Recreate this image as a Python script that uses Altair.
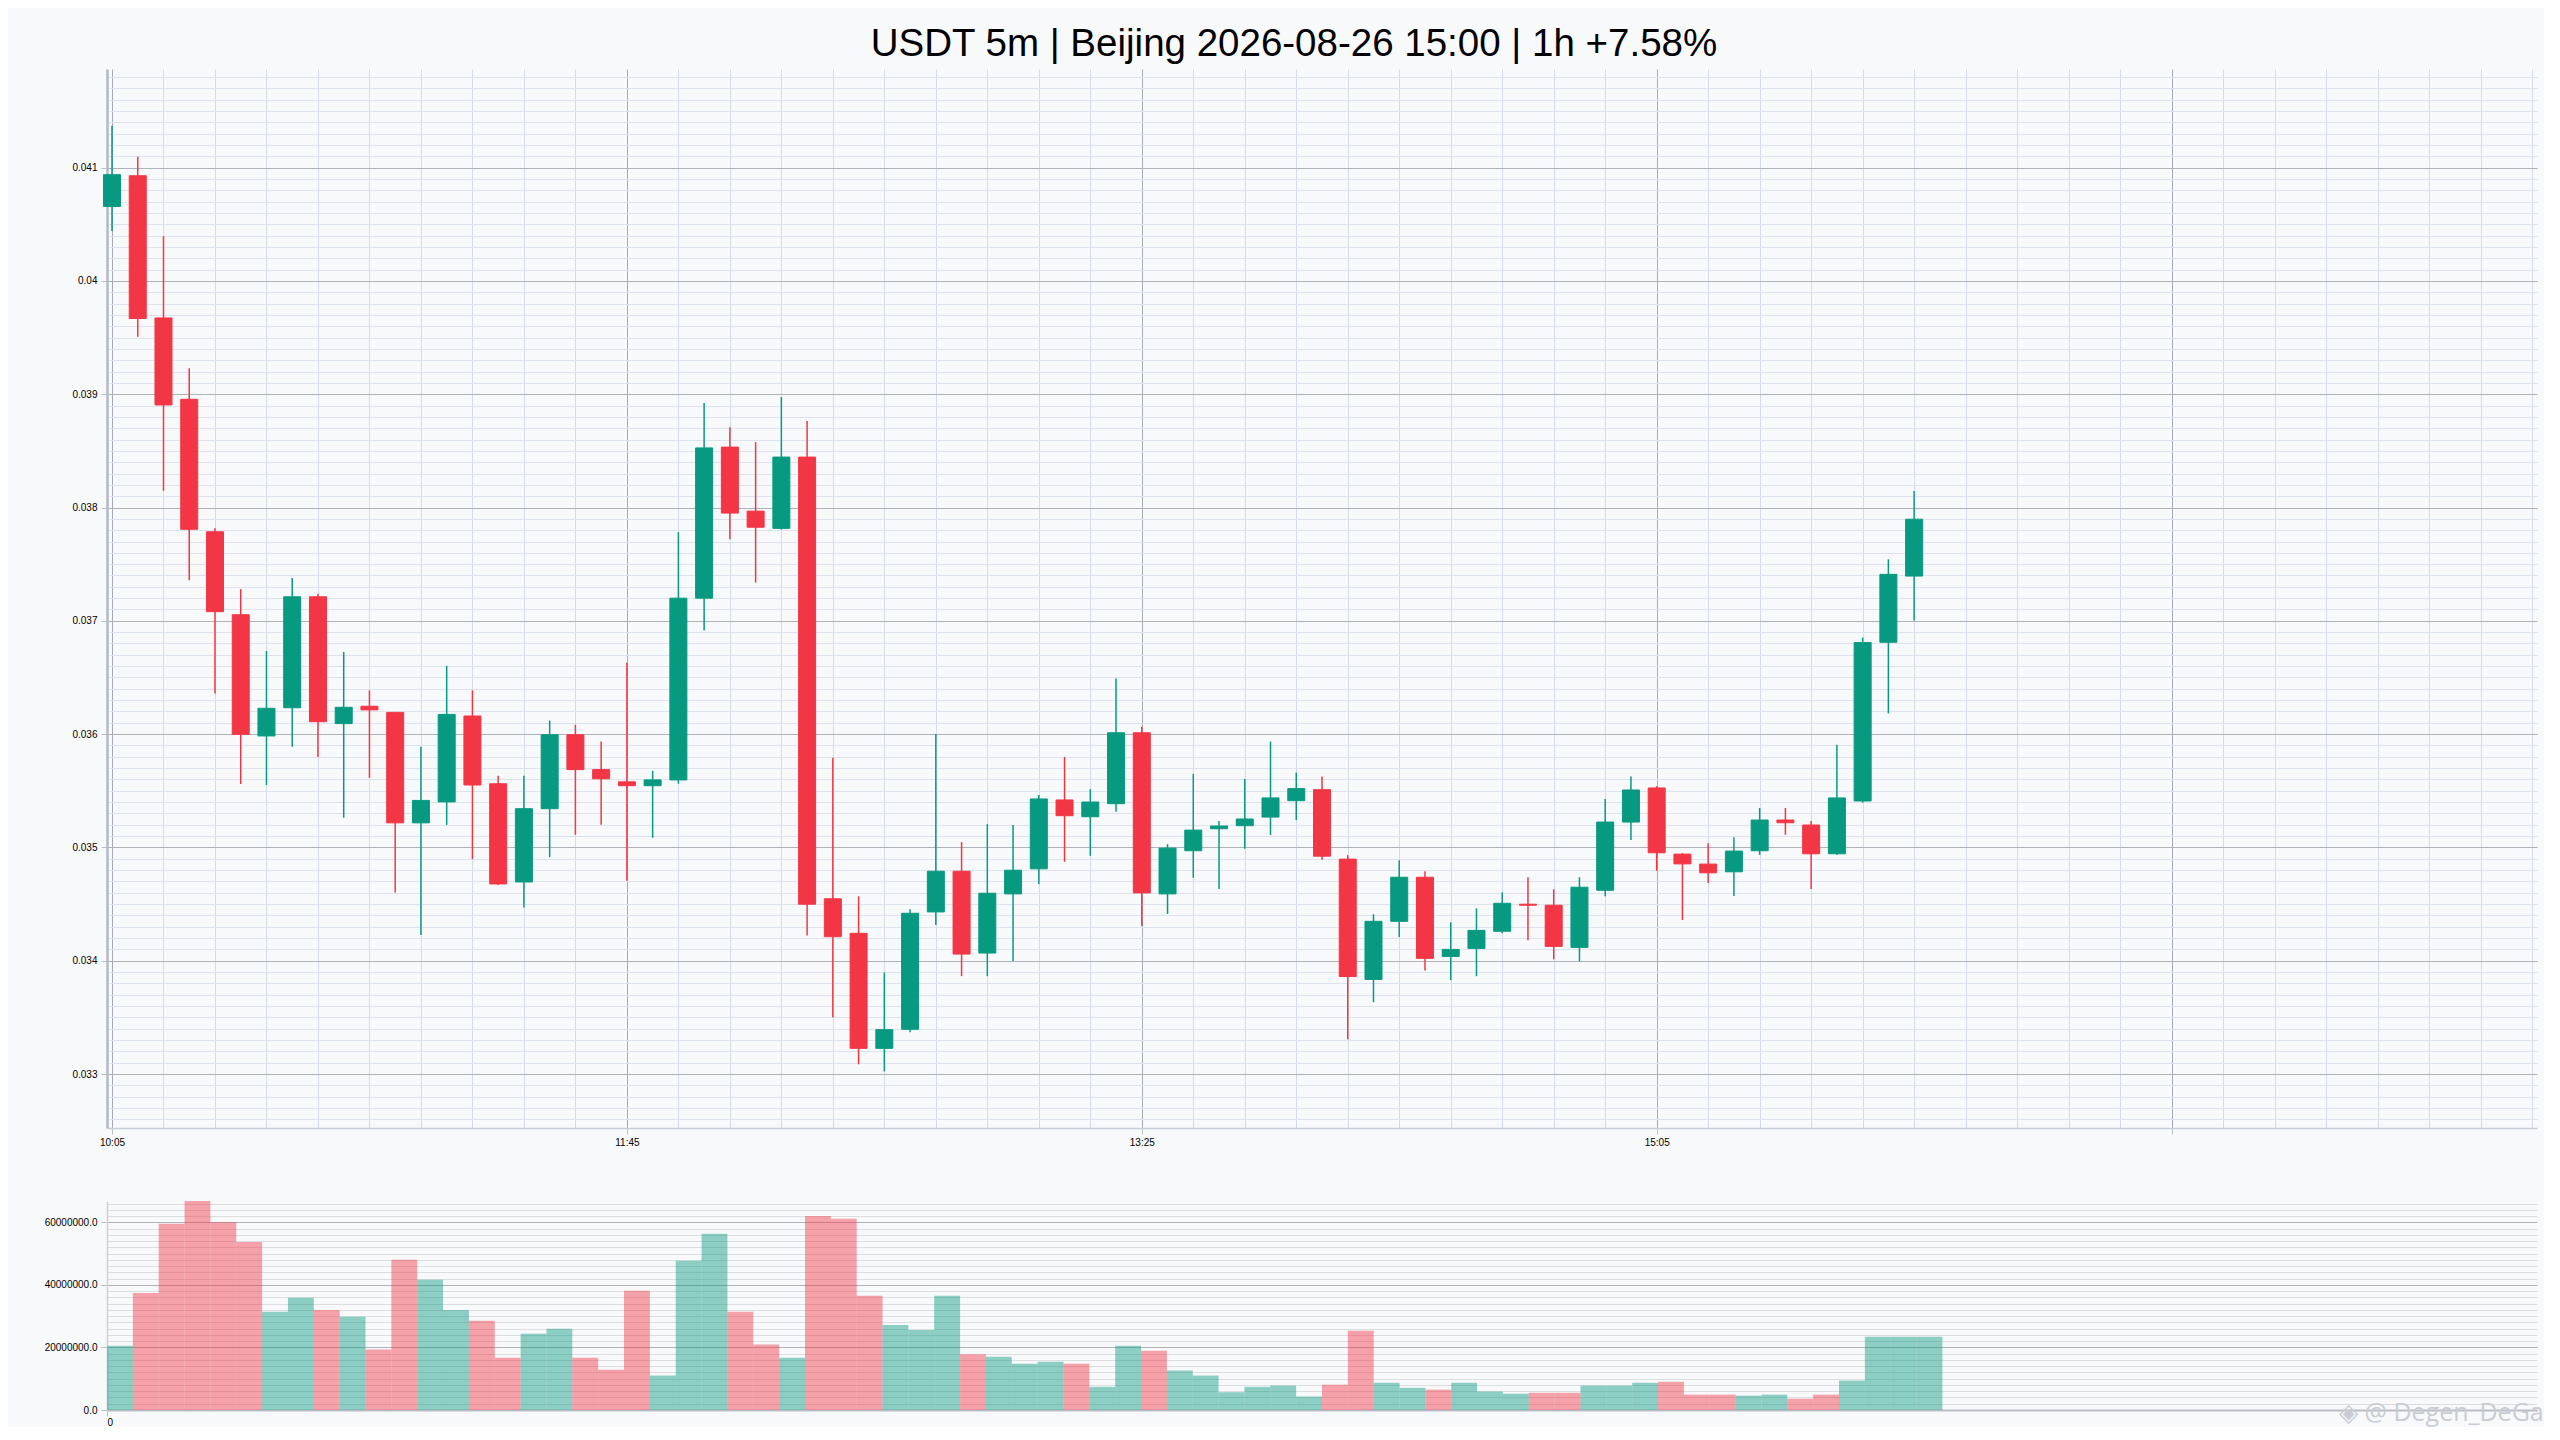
import altair as alt
import numpy as np
import pandas as pd

# ---------------- data ----------------
opens = [0.040657, 0.040928, 0.039673, 0.038955, 0.037786, 0.037054, 0.035984, 0.036233, 0.037212, 0.036093,
         0.036246, 0.036192, 0.035217, 0.035402, 0.036160, 0.035562, 0.034695, 0.035342, 0.035995, 0.035687,
         0.035579, 0.035545, 0.035596, 0.037200, 0.038533, 0.037968, 0.037816, 0.038445, 0.034547, 0.034242,
         0.033227, 0.033395, 0.034431, 0.034790, 0.034068, 0.034590, 0.034811, 0.035419, 0.035271, 0.035386,
         0.036012, 0.034590, 0.034971, 0.035165, 0.035192, 0.035268, 0.035413, 0.035510, 0.034897, 0.033835,
         0.034348, 0.034737, 0.034038, 0.034109, 0.034260, 0.034499, 0.034490, 0.034118, 0.034622, 0.035224,
         0.035525, 0.034941, 0.034853, 0.034785, 0.034971, 0.035242, 0.035198, 0.034944, 0.035410, 0.036811,
         0.037395]
highs = [0.041370, 0.041095, 0.040395, 0.039230, 0.037817, 0.037280, 0.036734, 0.037379, 0.037239, 0.036725,
         0.036386, 0.036192, 0.035889, 0.036603, 0.036386, 0.035633, 0.035633, 0.036120, 0.036083, 0.035934,
         0.036631, 0.035677, 0.037782, 0.038922, 0.038709, 0.038577, 0.038976, 0.038763, 0.035792, 0.034569,
         0.033897, 0.034454, 0.036000, 0.035047, 0.035206, 0.035198, 0.035463, 0.035799, 0.035513, 0.036490,
         0.036065, 0.035029, 0.035649, 0.035233, 0.035605, 0.035935, 0.035661, 0.035625, 0.034932, 0.034410,
         0.034888, 0.034791, 0.034339, 0.034463, 0.034605, 0.034737, 0.034631, 0.034737, 0.035428, 0.035625,
         0.035540, 0.034950, 0.035038, 0.035091, 0.035348, 0.035348, 0.035233, 0.035906, 0.036852, 0.037543,
         0.038145]
lows = [0.040440, 0.039506, 0.038147, 0.037357, 0.036359, 0.035560, 0.035551, 0.035889, 0.035799, 0.035262,
        0.035614, 0.034603, 0.034228, 0.035199, 0.034896, 0.034668, 0.034469, 0.034915, 0.035112, 0.035200,
        0.034706, 0.035085, 0.035562, 0.036915, 0.037721, 0.037338, 0.037805, 0.034222, 0.033500, 0.033086,
        0.033024, 0.033369, 0.034316, 0.033864, 0.033864, 0.033997, 0.034678, 0.034873, 0.034926, 0.035316,
        0.034307, 0.034413, 0.034732, 0.034634, 0.034988, 0.035109, 0.035242, 0.034891, 0.033307, 0.033634,
        0.034209, 0.033914, 0.033829, 0.033864, 0.034242, 0.034180, 0.034012, 0.033994, 0.034569, 0.035065,
        0.034794, 0.034360, 0.034687, 0.034572, 0.034935, 0.035112, 0.034634, 0.034935, 0.035395, 0.036183,
        0.037003]
closes = [0.040937, 0.039668, 0.038905, 0.037808, 0.037081, 0.035998, 0.036228, 0.037212, 0.036110, 0.036237,
          0.036214, 0.035217, 0.035415, 0.036174, 0.035551, 0.034678, 0.035342, 0.035995, 0.035687, 0.035606,
          0.035545, 0.035596, 0.037200, 0.038526, 0.037951, 0.037826, 0.038445, 0.034499, 0.034212, 0.033227,
          0.033392, 0.034419, 0.034790, 0.034059, 0.034596, 0.034799, 0.035428, 0.035280, 0.035401, 0.036012,
          0.034599, 0.034994, 0.035153, 0.035189, 0.035251, 0.035437, 0.035519, 0.034923, 0.033861, 0.034348,
          0.034737, 0.034021, 0.034100, 0.034268, 0.034507, 0.034490, 0.034127, 0.034649, 0.035224, 0.035507,
          0.034953, 0.034855, 0.034776, 0.034968, 0.035242, 0.035218, 0.034944, 0.035437, 0.036808, 0.037410,
          0.037897]
volumes_m = [20.5, 37.4, 59.5, 66.8, 60.0, 53.7, 31.4, 35.9, 32.0, 29.8,
             19.3, 48.0, 41.6, 32.0, 28.5, 16.7, 24.4, 26.0, 16.7, 12.9,
             38.1, 11.0, 47.7, 56.3, 31.4, 20.9, 16.7, 62.0, 61.1, 36.5,
             27.2, 25.6, 36.5, 17.8, 17.0, 14.8, 15.4, 14.8, 7.4, 20.5,
             18.9, 12.6, 11.0, 5.7, 7.4, 7.8, 4.3, 8.1, 25.3, 8.7,
             7.1, 6.5, 8.7, 5.9, 5.2, 5.5, 5.5, 7.8, 7.8, 8.7,
             9.0, 4.9, 4.9, 4.6, 4.9, 3.6, 4.9, 9.4, 23.4, 23.4,
             23.4]
tick_positions = [0, 20, 40, 60, 80]
tick_labels = ["10:05", "11:45", "13:25", "15:05", ""]
title_text = "USDT 5m | Beijing 2026-08-26 15:00 | 1h +7.58%"
watermark = "\u25c8 @ Degen_DeGa"

# ---------------- styling ----------------
GREEN = "#089981"
RED = "#F23645"
BG = "#f8f9fb"
X_MAX = 94
PLOT_W = 2430
UNIT = 10000  # prices are plotted in 1/10000 units so grid tests are exact integers

n = len(opens)
df = pd.DataFrame({
    "i": np.arange(n),
    "open": np.array(opens) * UNIT, "high": np.array(highs) * UNIT,
    "low": np.array(lows) * UNIT, "close": np.array(closes) * UNIT,
    "vol": np.array(volumes_m) * 1e6,
})
df["i2"] = df["i"] + 1
df["v0"] = 0.0
df["dir"] = np.where(df["close"] >= df["open"], "up", "down")

color = alt.Color("dir:N", scale=alt.Scale(domain=["up", "down"], range=[GREEN, RED]), legend=None)

lo = min(lows) * UNIT - 5
hi = max(highs) * UNIT + 5

# x axis: minor ticks every 10 minutes (2 candles), major every 100 minutes
label_expr = " : ".join(f"datum.value == {p} ? '{l}'" for p, l in zip(tick_positions, tick_labels)) + " : ''"
x_vals = list(range(0, X_MAX + 1, 2))
x_major = "datum.value % 20 == 0"
x_axis = alt.Axis(
    values=x_vals, labelExpr=label_expr, title=None, labelOverlap=False,
    gridColor={"condition": {"test": x_major, "value": "#a6abb3"}, "value": "#d5dce6"},
    gridWidth=1,
    tickOpacity={"condition": {"test": x_major, "value": 1}, "value": 0},
    tickColor="#b9c0ca", tickSize=6, labelPadding=3,
    domainColor="#c6ccd5", domainWidth=1.5,
)

y_vals = list(range(326, 419))
y_major = "datum.value % 10 == 0"
y_axis = alt.Axis(
    values=y_vals, title=None, labelOverlap=False,
    labelExpr=f"{y_major} ? format(datum.value / {UNIT}, '.3~f') : ''",
    gridColor={"condition": {"test": y_major, "value": "#aeb2b9"}, "value": "#dce3ec"},
    tickOpacity={"condition": {"test": y_major, "value": 1}, "value": 0},
    tickColor="#b9c0ca", tickSize=6, labelPadding=4,
    domainColor="#b3bac4", domainWidth=2.5,
    minExtent=62, maxExtent=62,
)

xs = alt.Scale(domain=[0, X_MAX], nice=False, zero=False)
ys = alt.Scale(domain=[lo, hi], nice=False, zero=False)

base = alt.Chart(df)
wicks = base.mark_rule(strokeWidth=1.5).encode(
    x=alt.X("i:Q", scale=xs, axis=x_axis),
    y=alt.Y("low:Q", scale=ys, axis=y_axis),
    y2="high:Q",
    color=color,
)
bodies = base.mark_bar(size=17, strokeWidth=1).encode(
    x=alt.X("i:Q", scale=xs, axis=x_axis),
    y=alt.Y("open:Q", scale=ys, axis=y_axis),
    y2="close:Q",
    color=color,
    stroke=color,
)
main = alt.layer(wicks, bodies).properties(width=PLOT_W, height=1059)

# volume panel
v_vals = list(range(0, 66_000_001, 2_000_000))
v_major = "datum.value % 20000000 == 0"
vx_axis = alt.Axis(values=[0], format="d", title=None, grid=False,
                   tickColor="#b9c0ca", tickSize=6, labelPadding=1,
                   domainColor="#b9bec6", domainWidth=2)
vy_axis = alt.Axis(
    values=v_vals, title=None, labelOverlap=False,
    labelExpr=f"{v_major} ? format(datum.value, '.1f') : ''",
    gridColor={"condition": {"test": v_major, "value": "#b0b2b6"}, "value": "#dcdddf"},
    tickOpacity={"condition": {"test": v_major, "value": 1}, "value": 0},
    tickColor="#b9c0ca", tickSize=6, labelPadding=4,
    domainColor="#cdd2d9", domainWidth=1.5,
    minExtent=62, maxExtent=62,
)
vol_bars = base.mark_bar(opacity=0.45).encode(
    x=alt.X("i:Q", scale=alt.Scale(domain=[0, X_MAX], nice=False, zero=False), axis=vx_axis),
    x2="i2:Q",
    y=alt.Y("vol:Q", scale=alt.Scale(nice=False, zero=True), axis=vy_axis),
    y2="v0:Q",
    color=color,
)
wm = alt.Chart(pd.DataFrame({"t": [watermark]})).mark_text(
    align="left", baseline="middle", fontSize=25, font="Open Sans", color="#c9cdd3"
).encode(text="t:N", x=alt.value(2232), y=alt.value(212))
vol = alt.layer(vol_bars, wm).properties(width=PLOT_W, height=209)

chart = alt.vconcat(main, vol, spacing=51).properties(
    title=alt.TitleParams(title_text, fontSize=38.5, font="Liberation Sans", fontWeight="normal",
                          color="#000000", anchor="middle", offset=4.5),
    background=BG,
    padding={"left": 36, "top": 17, "right": 0, "bottom": 0},
).configure_view(stroke=None).configure_axis(
    labelFont="Liberation Sans", labelFontSize=10, labelColor="#000000"
)

chart.save("out.html", embed_options={"renderer": "svg", "actions": False})
